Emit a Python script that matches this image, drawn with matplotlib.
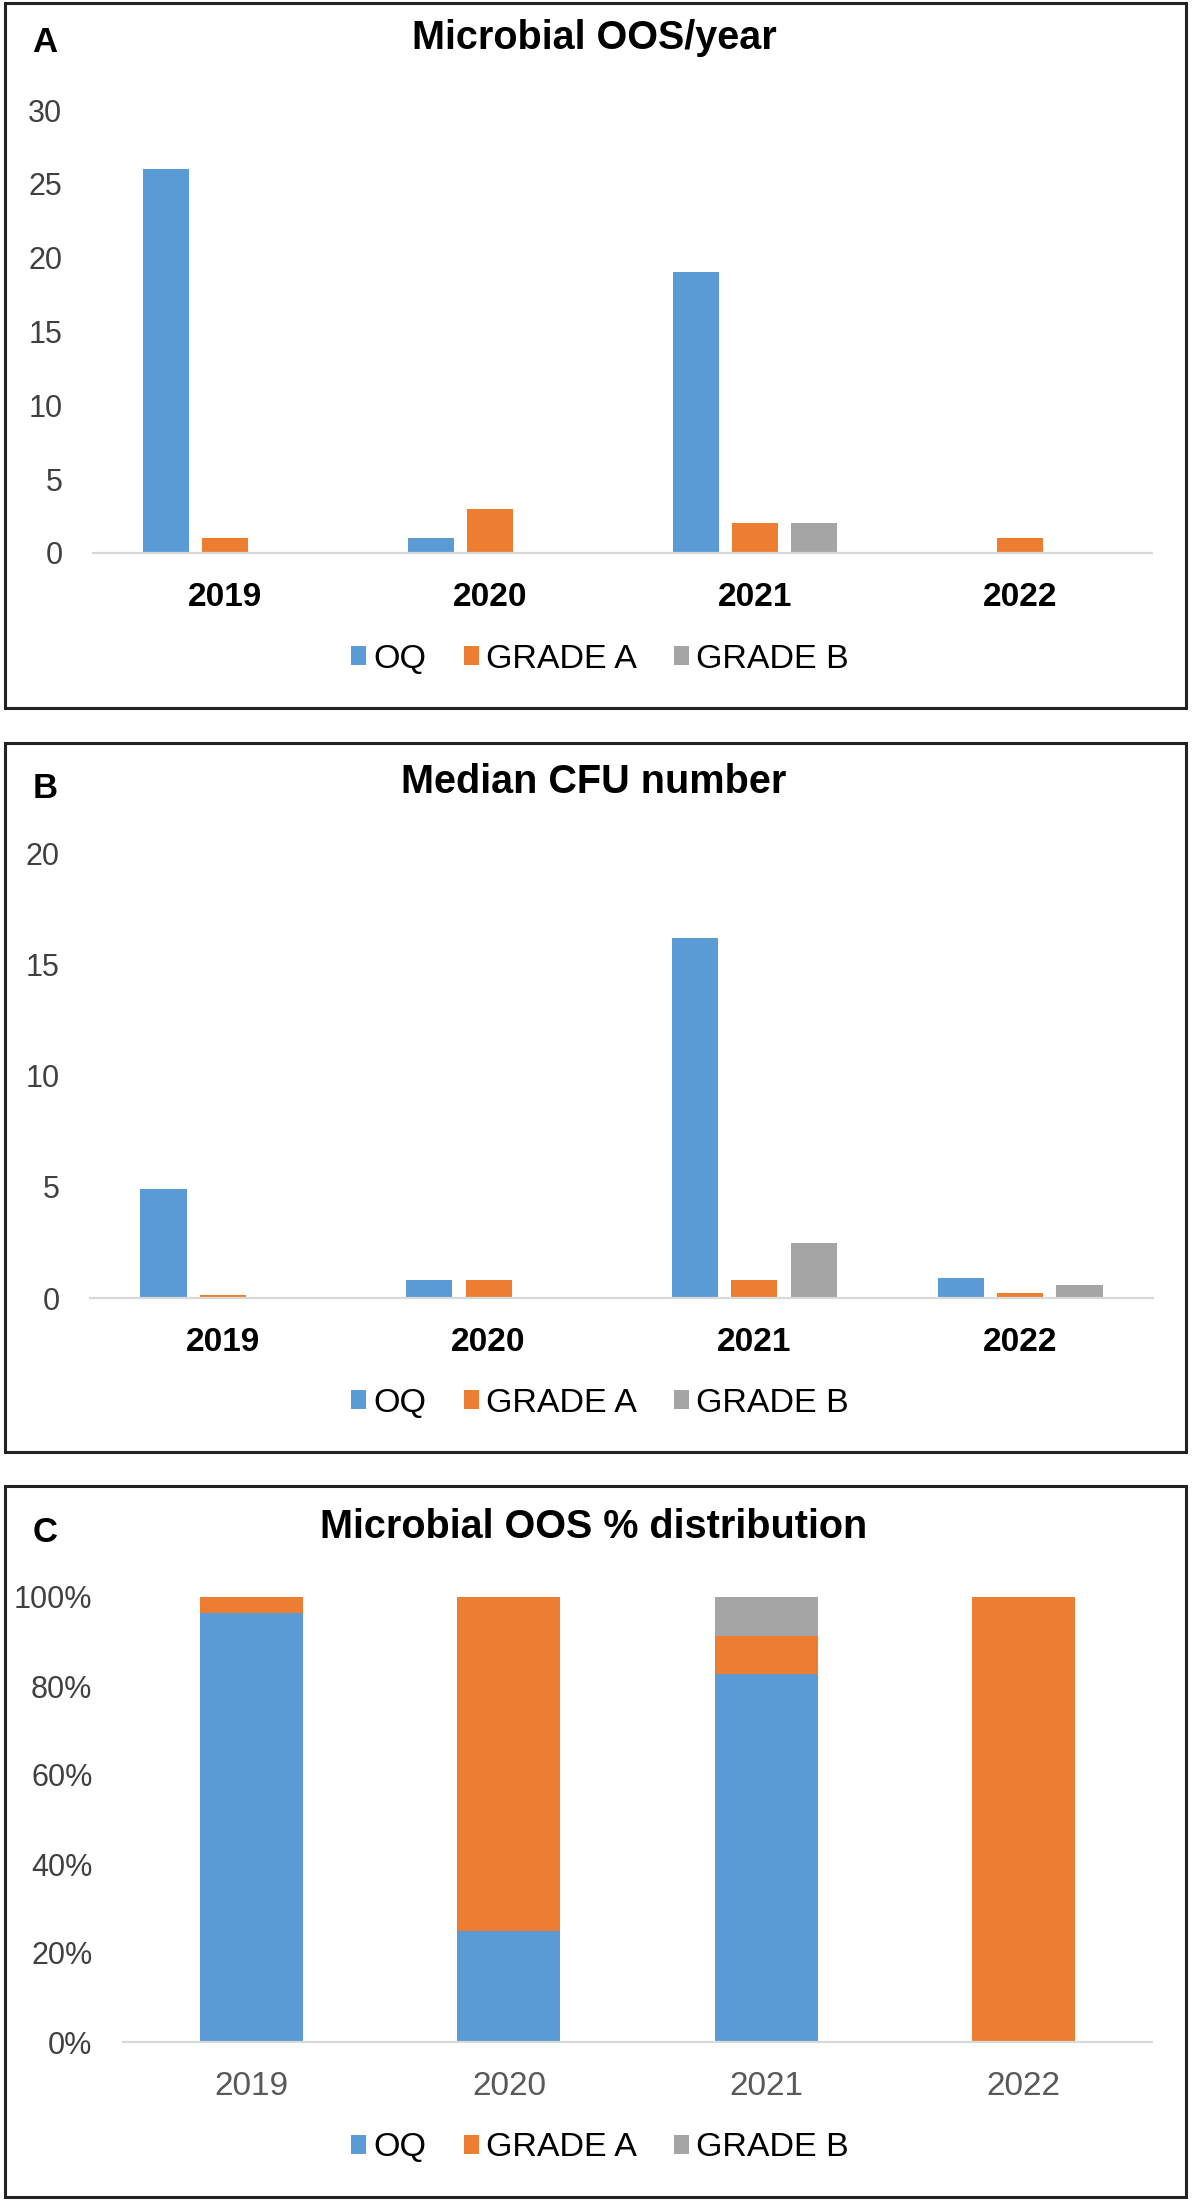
import matplotlib.pyplot as plt
from matplotlib.patches import Rectangle
from matplotlib.ticker import FuncFormatter
import numpy as np

plt.rcParams['font.family'] = ['Liberation Sans', 'DejaVu Sans']

years = ['2019', '2020', '2021', '2022']
series = ['OQ', 'GRADE A', 'GRADE B']
colors = ['#5B9BD5', '#ED7D31', '#A5A5A5']

# A: number of microbial OOS per year
oos_oq = [26, 1, 19, 0]
oos_grade_a = [1, 3, 2, 1]
oos_grade_b = [0, 0, 2, 0]

# B: median CFU number
cfu_oq = [4.9, 0.8, 16.2, 0.9]
cfu_grade_a = [0.15, 0.8, 0.8, 0.22]
cfu_grade_b = [0, 0, 2.45, 0.57]

# C: % distribution
pct_oq = [96.3, 25.0, 82.6, 0]
pct_grade_a = [3.7, 75.0, 8.7, 100]
pct_grade_b = [0, 0, 8.7, 0]

W, H = 1200, 2202
fig = plt.figure(figsize=(W / 100, H / 100), dpi=100)


def px_axes(x0, x1, ytop, ybot):
    return fig.add_axes([x0 / W, 1 - ybot / H, (x1 - x0) / W, (ybot - ytop) / H])


def frame(ytop, ybot):
    fig.patches.append(Rectangle((5 / W, 1 - ybot / H), 1181 / W, (ybot - ytop) / H,
                                 transform=fig.transFigure, fill=False,
                                 edgecolor='#222222', linewidth=2.2))


def style(ax, bold_x, xcolor):
    for s in ['top', 'right', 'left']:
        ax.spines[s].set_visible(False)
    ax.spines['bottom'].set_color('#D9D9D9')
    ax.spines['bottom'].set_linewidth(1.6)
    ax.tick_params(axis='both', length=0)
    ax.tick_params(axis='y', labelsize=22, labelcolor='#404040', pad=22)
    ax.tick_params(axis='x', labelsize=24, labelcolor=xcolor, pad=21)
    ax.set_xlim(-0.5, 3.5)
    ax.set_xticks(range(len(years)))
    ax.set_xticklabels(years, fontweight='bold' if bold_x else 'normal')


def legend(ycenter):
    handles = [Rectangle((0, 0), 1, 1, facecolor=c, edgecolor='none') for c in colors]
    fig.legend(handles, series, loc='center', bbox_to_anchor=(600 / W, 1 - ycenter / H),
               ncol=3, frameon=False, fontsize=24.5, handlelength=0.45, handleheight=0.45,
               handletextpad=0.2, columnspacing=1.1, borderpad=0)


def grouped(ax, values):
    x = np.arange(len(years))
    for i, v in enumerate(values):
        ax.bar(x + (i - 1) * 0.223, v, width=0.174, color=colors[i], zorder=2)


def panel_text(letter, title, y_letter, y_title):
    fig.text(45 / W, 1 - y_letter / H, letter, fontsize=25, fontweight='bold',
             ha='center', va='center')
    fig.text(594 / W, 1 - y_title / H, title, fontsize=28.5, fontweight='bold',
             ha='center', va='center')


# panel A
frame(3, 708)
ax1 = px_axes(93, 1152, 110, 553)
grouped(ax1, [oos_oq, oos_grade_a, oos_grade_b])
ax1.set_ylim(0, 30)
ax1.set_yticks(range(0, 31, 5))
style(ax1, True, 'black')
panel_text('A', 'Microbial OOS/year', 42, 38)
legend(659)

# panel B
frame(743, 1452)
ax2 = px_axes(90, 1153, 853, 1298)
grouped(ax2, [cfu_oq, cfu_grade_a, cfu_grade_b])
ax2.set_ylim(0, 20)
ax2.set_yticks(range(0, 21, 5))
style(ax2, True, 'black')
panel_text('B', 'Median CFU number', 788, 782)
legend(1403)

# panel C
frame(1486, 2197)
ax3 = px_axes(123, 1152, 1597, 2042)
x = np.arange(len(years))
bottom = np.zeros(len(years))
for i, v in enumerate([pct_oq, pct_grade_a, pct_grade_b]):
    ax3.bar(x, v, width=0.4, bottom=bottom, color=colors[i], zorder=2)
    bottom += np.array(v)
ax3.set_ylim(0, 100)
ax3.set_yticks(range(0, 101, 20))
ax3.yaxis.set_major_formatter(FuncFormatter(lambda v, p: '%d%%' % v))
style(ax3, False, '#595959')
panel_text('C', 'Microbial OOS % distribution', 1532, 1527)
legend(2148)

fig.savefig('out.png', dpi=100)
